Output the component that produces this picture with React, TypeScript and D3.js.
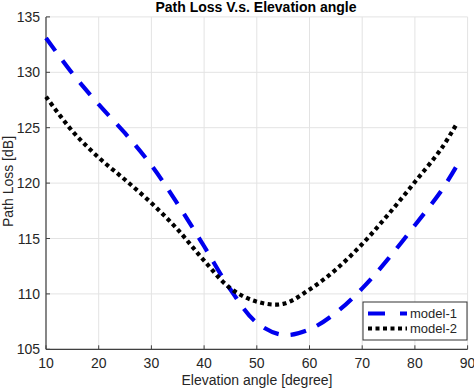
import React from "react";
import * as d3 from "d3";

const angles = [10, 15, 20, 25, 30, 35, 40, 45, 50, 55, 60, 65, 70, 75, 80, 85, 88];
const model1 = [133.1, 129.9, 127.1, 124.5, 121.6, 118.1, 114.3, 110.4, 107.4, 106.3, 106.8, 108.3, 110.5, 113.2, 116.2, 119.3, 121.6];
const model2 = [127.8, 124.7, 122.3, 120.3, 118.2, 115.8, 113.0, 110.5, 109.3, 109.1, 110.4, 112.2, 114.5, 117.2, 120.1, 123.1, 125.4];
const seriesNames = ["model-1", "model-2"];
const xTicks = [10, 20, 30, 40, 50, 60, 70, 80, 90];
const yTicks = [105, 110, 115, 120, 125, 130, 135];

const W = 474;
const H = 389;
const left = 46;
const right = 467.6;
const top = 16.9;
const bottom = 349.3;
const font = "'Liberation Sans', Arial, Helvetica, sans-serif";
const axisColor = "#404040";
const textColor = "#262626";

export default function App() {
  const x = d3.scaleLinear().domain([10, 90]).range([left, right]);
  const y = d3.scaleLinear().domain([105, 135]).range([bottom, top]);
  const line = d3
    .line<number>()
    .x((_, i) => x(angles[i]))
    .y((d) => y(d))
    .curve(d3.curveCatmullRom.alpha(0.5));

  const series = [
    { name: seriesNames[0], values: model1, color: "#0000ee", dash: "16,12", legDash: "17,15" },
    { name: seriesNames[1], values: model2, color: "#000000", dash: "4,3.5", legDash: "4,3.5" },
  ];

  const legX = 363;
  const legY = 302;
  const legW = 104;
  const legH = 38;

  return (
    <svg
      width={W}
      height={H}
      style={{ position: "absolute", left: 0, top: 0, background: "#fff" }}
      fontFamily={font}
    >
      <rect x={0} y={0} width={W} height={H} fill="#fff" />
      {/* grid */}
      {xTicks.map((t) => (
        <line key={"gx" + t} x1={x(t)} x2={x(t)} y1={top} y2={bottom} stroke="#e3e3e3" strokeWidth={1} />
      ))}
      {yTicks.map((t) => (
        <line key={"gy" + t} x1={left} x2={right} y1={y(t)} y2={y(t)} stroke="#e3e3e3" strokeWidth={1} />
      ))}
      {/* axes */}
      <line x1={left} x2={left} y1={top} y2={bottom} stroke={axisColor} strokeWidth={1.2} />
      <line x1={left} x2={right} y1={bottom} y2={bottom} stroke={axisColor} strokeWidth={1.2} />
      {xTicks.map((t) => (
        <g key={"xt" + t}>
          <line x1={x(t)} x2={x(t)} y1={bottom} y2={bottom - 4} stroke={axisColor} strokeWidth={1} />
          <text x={x(t)} y={368} textAnchor="middle" fontSize={14} fill={textColor}>
            {t}
          </text>
        </g>
      ))}
      {yTicks.map((t) => (
        <g key={"yt" + t}>
          <line x1={left} x2={left + 4} y1={y(t)} y2={y(t)} stroke={axisColor} strokeWidth={1} />
          <text x={40} y={y(t) + 5} textAnchor="end" fontSize={14} fill={textColor}>
            {t}
          </text>
        </g>
      ))}
      {/* lines */}
      {series.map((s) => (
        <path
          key={s.name}
          d={line(s.values) || ""}
          fill="none"
          stroke={s.color}
          strokeWidth={4.2}
          strokeDasharray={s.dash}
        />
      ))}
      {/* title & labels */}
      <text x={256} y={12} textAnchor="middle" fontSize={14} fontWeight="bold" fill="#000">
        Path Loss V.s. Elevation angle
      </text>
      <text x={257} y={385} textAnchor="middle" fontSize={14} fill={textColor}>
        Elevation angle [degree]
      </text>
      <text
        transform={`translate(13, 181.5) rotate(-90)`}
        textAnchor="middle"
        fontSize={14}
        fill={textColor}
      >
        Path Loss [dB]
      </text>
      {/* legend */}
      <rect x={legX} y={legY} width={legW} height={legH} fill="#fff" stroke="#333" strokeWidth={1} />
      {series.map((s, i) => {
        const ly = legY + 11.5 + i * 15;
        return (
          <g key={"leg" + s.name}>
            <line
              x1={legX + 5}
              x2={legX + 44}
              y1={ly}
              y2={ly}
              stroke={s.color}
              strokeWidth={4.2}
              strokeDasharray={s.legDash}
            />
            <text x={legX + 47} y={ly + 4.5} fontSize={13} fill={textColor}>
              {s.name}
            </text>
          </g>
        );
      })}
    </svg>
  );
}
